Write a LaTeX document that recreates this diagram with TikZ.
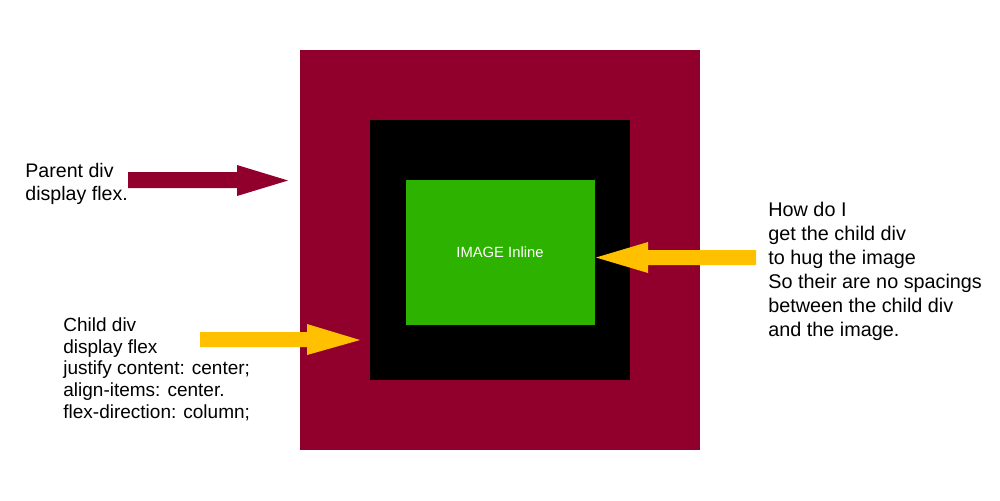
\documentclass[tikz,border=0pt]{standalone}
\usepackage{fontspec}
\setmainfont{Liberation Sans}
\definecolor{maroon}{RGB}{145,0,45}
\definecolor{imggreen}{RGB}{45,178,0}
\definecolor{amber}{RGB}{255,192,0}
\begin{document}
\begin{tikzpicture}[x=0.5pt,y=-0.5pt,
  lbl/.style={anchor=base west,inner sep=0pt,align=left}]
\useasboundingbox (0,0) rectangle (1000,500);
\fill[white] (0,0) rectangle (1000,500);
\fill[maroon] (300,50) rectangle (700,450);
\fill[black] (370,120) rectangle (630,380);
\node[fill=imggreen,minimum width=94.5pt,minimum height=72.5pt,inner sep=0pt,anchor=north west] (img) at (406,180) {};
\node[text=white,font=\fontsize{7.4}{9}\selectfont,anchor=base] (imgtxt) at (500,257) {IMAGE Inline};
% arrows
\fill[maroon] (128,172) -- (237,172) -- (237,165) -- (288,180.5) -- (237,196) -- (237,188) -- (128,188) -- cycle;
\fill[amber] (200,332) -- (307,332) -- (307,324) -- (360,340) -- (307,355) -- (307,347) -- (200,347) -- cycle;
\fill[amber] (756,250) -- (648,250) -- (648,242) -- (596,257.5) -- (648,273) -- (648,265) -- (756,265) -- cycle;
% texts (base anchor = baseline of the last line)
\node[lbl,font=\fontsize{9.8}{11.5}\selectfont] (parent) at (25,200) {Parent div\\display flex.};
\node[lbl,font=\fontsize{9.5}{10.8}\selectfont] (child) at (63,418) {Child div\\display flex\\justify content: center;\\align-items: center.\\flex-direction: column;};
\node[lbl,font=\fontsize{9.9}{12}\selectfont] (question) at (768,336) {How do I\\get the child div\\to hug the image\\So their are no spacings\\between the child div\\and the image.};
\end{tikzpicture}
\end{document}
